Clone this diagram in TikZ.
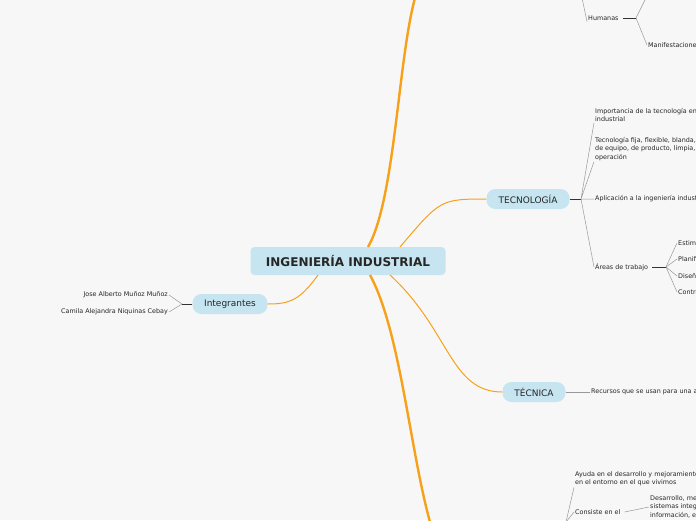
\documentclass[tikz,border=0pt]{standalone}
\usepackage{fontspec}
\setmainfont{DejaVu Sans}
\begin{document}
\begin{tikzpicture}[x=1pt,y=-1pt,
  main/.style={fill=nodeblue,rounded corners=4pt,inner sep=0pt,font=\fontsize{12}{14}\selectfont\bfseries,text=black!85},
  topic/.style={fill=nodeblue,rounded corners=9pt,inner sep=0pt,font=\fontsize{9}{11}\selectfont,text=black!85},
  leaf/.style={font=\fontsize{6.4}{8.2}\selectfont,text=black!85,inner sep=1pt,align=left,anchor=west},
  thick orange/.style={draw=orangec,line width=2.4pt},
  thin orange/.style={draw=orangec,line width=1pt},
  gl/.style={draw=gray!80,line width=0.5pt},
  gj/.style={draw=black!80,line width=0.9pt}]
\definecolor{nodeblue}{HTML}{C6E5F0}
\definecolor{orangec}{HTML}{F7A11A}
\fill[black!3] (0,0) rectangle (696,520);
\useasboundingbox (0,0) rectangle (696,520);
\clip (0,0) rectangle (696,520);
\node[main,minimum width=195pt,minimum height=28pt] (c) at (348,261) {INGENIERÍA INDUSTRIAL};
\node[topic,minimum width=83pt,minimum height=20pt] (tec) at (528,199) {TECNOLOGÍA};
\node[topic,minimum width=63pt,minimum height=20pt] (tecn) at (534,392) {TÉCNICA};
\node[topic,minimum width=75pt,minimum height=20pt] (int) at (230,304) {Integrantes};
\coordinate (top) at (415,-2);
\coordinate (bot) at (430,522);
\draw[thick orange] (368,247) .. controls (395,200) and (398,60) .. (top);
\draw[thick orange] (370,275) .. controls (400,330) and (410,450) .. (bot);
\draw[thin orange] (400,247) .. controls (440,200) and (440,199) .. (tec.west);
\draw[thin orange] (390,275) .. controls (450,330) and (450,392) .. (tecn.west);
\draw[thin orange] (318,275) .. controls (300,300) and (290,304) .. (int.east);
% integrantes
\node[leaf,anchor=east] (j1) at (169,295) {Jose Alberto Muñoz Muñoz};
\node[leaf,anchor=east] (j2) at (169,312) {Camila Alejandra Niquinas Cebay};
\coordinate (ji) at (182,304);
\draw[gj] (int.west) -- (ji);
\draw[gl] (ji) -- (j1.east) (ji) -- (j2.east);
% tecnologia
\coordinate (tj) at (581,199);
\draw[gj] (tec.east) -- (tj);
\node[leaf] (t1) at (594,115) {Importancia de la tecnología en la ingeniería\\industrial};
\node[leaf] (t2) at (594,149) {Tecnología fija, flexible, blanda, dura,\\de equipo, de producto, limpia, de\\operación};
\node[leaf] (t3) at (594,199) {Aplicación a la ingeniería industrial};
\node[leaf] (t4) at (594,267) {Áreas de trabajo};
\draw[gl] (tj) -- (t1.south west) (tj) -- (t2.south west) (tj) -- (t3.west) (tj) -- (t4.west);
\coordinate (aj) at (666,267);
\draw[gj] (t4.east)++(3,0) -- (aj);
\node[leaf] (a1) at (677,243) {Estimación};
\node[leaf] (a2) at (677,259) {Planificación};
\node[leaf] (a3) at (677,276) {Diseño};
\node[leaf] (a4) at (677,292) {Control};
\foreach \n in {a1,a2,a3,a4} \draw[gl] (aj) -- (\n.west);
% top
\node[leaf] (h) at (587,18) {Humanas};
\coordinate (hj) at (636,18);
\coordinate (hu) at (646,-2);
\coordinate (hl) at (582,-2);
\draw[gj] (h.east)++(3,0) -- (hj);
\draw[gl] (hj) -- (hu);
\draw[gl] (hl) -- (h.south west);
\node[leaf] (m) at (647,45) {Manifestaciones};
\draw[gl] (hj) -- (m.west);
% tecnica
\node[leaf] (r) at (590,392) {Recursos que se usan para una actividad};
\draw[gl] (tecn.east) -- (r.west);
% bottom
\node[leaf] (b1) at (574,479) {Ayuda en el desarrollo y mejoramiento\\en el entorno en el que vivimos};
\node[leaf] (b2) at (574,512) {Consiste en el};
\coordinate (bj) at (566,522);
\draw[gl] (bj) -- (b1.south west);
\draw[gl] (bj) -- (b2.west);
\node[leaf] (b3) at (649,507) {Desarrollo, mejora e implantación de\\sistemas integrados de personas,\\información, equipos};
\draw[gl] (b2.east)++(3,0) -- (b3.west);
\end{tikzpicture}
\end{document}
